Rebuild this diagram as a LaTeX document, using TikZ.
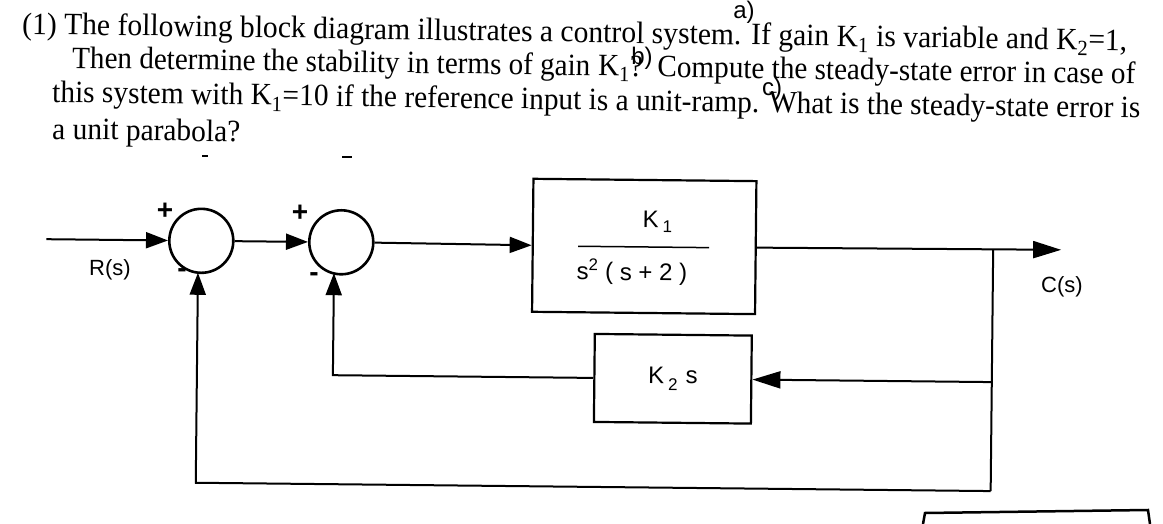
\documentclass[tikz,border=0pt]{standalone}
\usepackage{fontspec}
\usepackage{graphicx}
\setmainfont{Liberation Serif}
\newfontfamily\diag{Liberation Sans}
\usetikzlibrary{arrows.meta}
\begin{document}
\begin{tikzpicture}[x=1pt,y=-1pt,
  wire/.style={line width=2pt},
  arr/.style={wire,-{Triangle[length=22pt,width=16pt]}},
  bigarr/.style={wire,-{Triangle[length=28pt,width=17pt]}},
  sumnode/.style={circle,draw,line width=2.6pt,minimum size=64pt,inner sep=0pt},
  blk/.style={draw,line width=2.2pt,inner sep=0pt},
  lbl/.style={font=\diag\fontsize{22}{24}\selectfont,inner sep=0pt},
  sign/.style={font=\diag\bfseries\fontsize{28}{28}\selectfont,inner sep=0pt},
  frac/.style={font=\diag\fontsize{24}{26}\selectfont,inner sep=0pt},
  txt/.style={anchor=base west,inner sep=0pt,font=\fontsize{31}{34}\selectfont,rotate=-0.85},
  hand/.style={font=\diag\fontsize{24}{30}\selectfont,inner sep=0pt}]
\useasboundingbox (0,0) rectangle (1163,524);
% question text
\node[txt] (l1) at (22,34) {\resizebox{1105pt}{\height}{(1) The following block diagram illustrates a control system. If gain K\textsubscript{1} is variable and K\textsubscript{2}=1,}};
\node[txt] (l2a) at (72,68) {\resizebox{518pt}{\height}{Then determine the stability in terms of gain}};
\node[txt] (l2b) at (598,75.9) {\resizebox{537pt}{\height}{K\textsubscript{1}?\hspace{0.5em}Compute the steady-state error in case of}};
\node[txt] (l3) at (52,102) {\resizebox{1088pt}{\height}{this system with K\textsubscript{1}=10 if the reference input is a unit-ramp. What is the steady-state error is}};
\node[txt] (l4) at (52,139) {\scalebox{0.95}[1]{a unit parabola?}};
\node[hand] (ha) at (744,12) {a)};
\node[hand] (hb) at (642,58) {b)};
\node[hand] (hc) at (772,89) {c)};
% diagram
\begin{scope}[rotate around={-0.6:(600,365)},transform shape]
\node[sumnode] (s1) at (200,245) {};
\node[sumnode] (s2) at (340,245) {};
\node[blk,minimum width=223pt,minimum height=133pt] (g1) at (643,246) {};
\node[frac] (k1) at (656,221) {K\,\raisebox{-5pt}{\fontsize{17}{17}\selectfont 1}};
\coordinate (barl) at (577,246.5);
\coordinate (barr) at (708,246.5);
\draw[line width=1.5pt] (barl) -- (barr);
\node[frac] (den) at (631,272) {s\textsuperscript{2} ( s + 2 )};
\node[blk,minimum width=157pt,minimum height=88pt,frac] (g2) at (673,378) {K\,\raisebox{-7pt}{\fontsize{17}{17}\selectfont 2}\,\,s};
\coordinate (in) at (45,245);
\coordinate (out) at (1060,245);
\coordinate (br) at (992,245);
\coordinate (bl) at (992,487);
\coordinate (tap) at (992,378);
\coordinate (s1in) at (197,277);
\coordinate (s2in) at (333,276);
\draw[arr] (in) -- (s1.west);
\draw[arr] (s1.east) -- (s2.west);
\draw[arr] (s2.east) -- (g1.west);
\draw[bigarr] (g1.east) -- (out);
\draw[wire] (br) -- (bl);
\draw[bigarr] (tap) -- (g2.east);
\draw[arr] (g2.west) -| (s2in);
\draw[arr] (bl) -| (s1in);
\end{scope}
% labels
\node[sign] (p1) at (165,211) {+};
\node[sign] (p2) at (300,213) {+};
\node[sign] (m1) at (182,273) {-};
\node[sign] (m2) at (314,277) {-};
\node[lbl] (R) at (110,270) {R(s)};
\node[lbl] (C) at (1062,287) {C(s)};
% scan marks
\draw[line width=2.5pt] (923,524) -- (925,513) -- (1148,510) -- (1150,524);
\draw[line width=2pt] (202,156) -- (208,156);
\draw[line width=2pt] (342,157) -- (352,157);
\end{tikzpicture}
\end{document}
